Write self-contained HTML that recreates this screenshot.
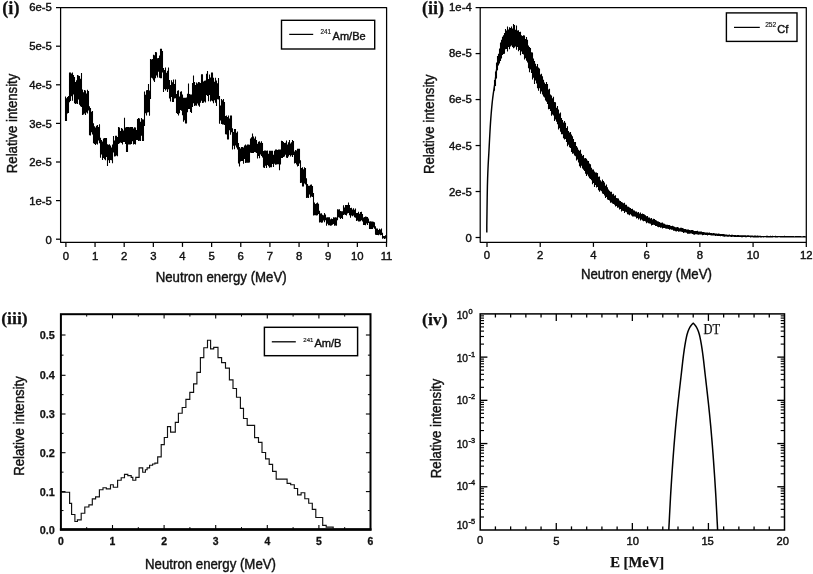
<!DOCTYPE html>
<html><head><meta charset="utf-8"><title>Neutron spectra</title>
<style>html,body{margin:0;padding:0;background:#fff}svg text{white-space:pre}</style></head>
<body>
<svg width="813" height="574" viewBox="0 0 813 574" style="display:block">
<rect width="813" height="574" fill="#fff"/>
<polyline points="60.60,7.60 386.60,7.60 386.60,242.30 60.60,242.30 60.60,7.00" fill="none" stroke="#000" stroke-width="1.25" stroke-linejoin="round"/>
<line x1="65.90" y1="242.30" x2="65.90" y2="246.90" stroke="#000" stroke-width="1.25"/>
<text x="65.90" y="259.50" font-family='"Liberation Sans", Arial, sans-serif' font-size="11.3" font-weight="normal" text-anchor="middle" fill="#111" stroke="#111" stroke-width="0.42">0</text>
<line x1="95.05" y1="242.30" x2="95.05" y2="246.90" stroke="#000" stroke-width="1.25"/>
<text x="95.05" y="259.50" font-family='"Liberation Sans", Arial, sans-serif' font-size="11.3" font-weight="normal" text-anchor="middle" fill="#111" stroke="#111" stroke-width="0.42">1</text>
<line x1="124.19" y1="242.30" x2="124.19" y2="246.90" stroke="#000" stroke-width="1.25"/>
<text x="124.19" y="259.50" font-family='"Liberation Sans", Arial, sans-serif' font-size="11.3" font-weight="normal" text-anchor="middle" fill="#111" stroke="#111" stroke-width="0.42">2</text>
<line x1="153.34" y1="242.30" x2="153.34" y2="246.90" stroke="#000" stroke-width="1.25"/>
<text x="153.34" y="259.50" font-family='"Liberation Sans", Arial, sans-serif' font-size="11.3" font-weight="normal" text-anchor="middle" fill="#111" stroke="#111" stroke-width="0.42">3</text>
<line x1="182.48" y1="242.30" x2="182.48" y2="246.90" stroke="#000" stroke-width="1.25"/>
<text x="182.48" y="259.50" font-family='"Liberation Sans", Arial, sans-serif' font-size="11.3" font-weight="normal" text-anchor="middle" fill="#111" stroke="#111" stroke-width="0.42">4</text>
<line x1="211.63" y1="242.30" x2="211.63" y2="246.90" stroke="#000" stroke-width="1.25"/>
<text x="211.63" y="259.50" font-family='"Liberation Sans", Arial, sans-serif' font-size="11.3" font-weight="normal" text-anchor="middle" fill="#111" stroke="#111" stroke-width="0.42">5</text>
<line x1="240.77" y1="242.30" x2="240.77" y2="246.90" stroke="#000" stroke-width="1.25"/>
<text x="240.77" y="259.50" font-family='"Liberation Sans", Arial, sans-serif' font-size="11.3" font-weight="normal" text-anchor="middle" fill="#111" stroke="#111" stroke-width="0.42">6</text>
<line x1="269.92" y1="242.30" x2="269.92" y2="246.90" stroke="#000" stroke-width="1.25"/>
<text x="269.92" y="259.50" font-family='"Liberation Sans", Arial, sans-serif' font-size="11.3" font-weight="normal" text-anchor="middle" fill="#111" stroke="#111" stroke-width="0.42">7</text>
<line x1="299.06" y1="242.30" x2="299.06" y2="246.90" stroke="#000" stroke-width="1.25"/>
<text x="299.06" y="259.50" font-family='"Liberation Sans", Arial, sans-serif' font-size="11.3" font-weight="normal" text-anchor="middle" fill="#111" stroke="#111" stroke-width="0.42">8</text>
<line x1="328.21" y1="242.30" x2="328.21" y2="246.90" stroke="#000" stroke-width="1.25"/>
<text x="328.21" y="259.50" font-family='"Liberation Sans", Arial, sans-serif' font-size="11.3" font-weight="normal" text-anchor="middle" fill="#111" stroke="#111" stroke-width="0.42">9</text>
<line x1="357.35" y1="242.30" x2="357.35" y2="246.90" stroke="#000" stroke-width="1.25"/>
<text x="357.35" y="259.50" font-family='"Liberation Sans", Arial, sans-serif' font-size="11.3" font-weight="normal" text-anchor="middle" fill="#111" stroke="#111" stroke-width="0.42">10</text>
<line x1="386.50" y1="242.30" x2="386.50" y2="246.90" stroke="#000" stroke-width="1.25"/>
<text x="386.50" y="259.50" font-family='"Liberation Sans", Arial, sans-serif' font-size="11.3" font-weight="normal" text-anchor="middle" fill="#111" stroke="#111" stroke-width="0.42">11</text>
<line x1="56.00" y1="239.20" x2="60.60" y2="239.20" stroke="#000" stroke-width="1.25"/>
<text x="51.90" y="243.90" font-family='"Liberation Sans", Arial, sans-serif' font-size="11.3" font-weight="normal" text-anchor="end" fill="#111" stroke="#111" stroke-width="0.42">0</text>
<line x1="56.00" y1="200.60" x2="60.60" y2="200.60" stroke="#000" stroke-width="1.25"/>
<text x="51.90" y="205.10" font-family='"Liberation Sans", Arial, sans-serif' font-size="11.3" font-weight="normal" text-anchor="end" fill="#111" stroke="#111" stroke-width="0.42">1e-5</text>
<line x1="56.00" y1="162.00" x2="60.60" y2="162.00" stroke="#000" stroke-width="1.25"/>
<text x="51.90" y="166.30" font-family='"Liberation Sans", Arial, sans-serif' font-size="11.3" font-weight="normal" text-anchor="end" fill="#111" stroke="#111" stroke-width="0.42">2e-5</text>
<line x1="56.00" y1="123.40" x2="60.60" y2="123.40" stroke="#000" stroke-width="1.25"/>
<text x="51.90" y="127.50" font-family='"Liberation Sans", Arial, sans-serif' font-size="11.3" font-weight="normal" text-anchor="end" fill="#111" stroke="#111" stroke-width="0.42">3e-5</text>
<line x1="56.00" y1="84.80" x2="60.60" y2="84.80" stroke="#000" stroke-width="1.25"/>
<text x="51.90" y="88.70" font-family='"Liberation Sans", Arial, sans-serif' font-size="11.3" font-weight="normal" text-anchor="end" fill="#111" stroke="#111" stroke-width="0.42">4e-5</text>
<line x1="56.00" y1="46.20" x2="60.60" y2="46.20" stroke="#000" stroke-width="1.25"/>
<text x="51.90" y="49.90" font-family='"Liberation Sans", Arial, sans-serif' font-size="11.3" font-weight="normal" text-anchor="end" fill="#111" stroke="#111" stroke-width="0.42">5e-5</text>
<line x1="56.00" y1="7.60" x2="60.60" y2="7.60" stroke="#000" stroke-width="1.25"/>
<text x="51.90" y="11.10" font-family='"Liberation Sans", Arial, sans-serif' font-size="11.3" font-weight="normal" text-anchor="end" fill="#111" stroke="#111" stroke-width="0.42">6e-5</text>
<text x="16.60" y="123.40" font-family='"Liberation Sans", Arial, sans-serif' font-size="14.3" font-weight="normal" text-anchor="middle" fill="#111" transform="rotate(-90 16.60 123.40)" textLength="99.5" lengthAdjust="spacingAndGlyphs" stroke="#111" stroke-width="0.42">Relative intensity</text>
<text x="221.20" y="281.90" font-family='"Liberation Sans", Arial, sans-serif' font-size="14.3" font-weight="normal" text-anchor="middle" fill="#111" textLength="131" lengthAdjust="spacingAndGlyphs" stroke="#111" stroke-width="0.42">Neutron energy (MeV)</text>
<text x="2.30" y="13.80" font-family='"Liberation Serif", "Times New Roman", serif' font-size="18.2" font-weight="bold" text-anchor="start" fill="#111" stroke="#111" stroke-width="0.25">(i)</text>
<rect x="281.5" y="20.3" width="93.2" height="28.7" fill="#fff" stroke="#000" stroke-width="1.4"/>
<line x1="289.20" y1="34.40" x2="313.20" y2="34.40" stroke="#000" stroke-width="1.25"/>
<text x="320.60" y="34.40" font-family='"Liberation Sans", Arial, sans-serif' font-size="6.3" font-weight="normal" text-anchor="start" fill="#111" stroke="#111" stroke-width="0.15">241</text>
<text x="332.60" y="39.70" font-family='"Liberation Sans", Arial, sans-serif' font-size="11" font-weight="normal" text-anchor="start" fill="#111" stroke="#111" stroke-width="0.42">Am/Be</text>
<path d="M65.5 96.4V120.9M66.5 98.3V121.0M67.5 97.0V113.6M68.5 96.0V113.1M69.5 72.5V102.3M70.5 72.5V101.0M71.5 73.4V96.3M72.5 72.5V100.8M73.5 74.9V94.5M74.5 77.0V103.2M75.5 82.1V104.0M76.5 80.2V103.6M77.5 75.1V104.0M78.5 75.4V99.4M79.5 76.1V104.8M80.5 78.8V106.2M81.5 73.0V107.0M82.5 89.5V115.1M83.5 92.2V114.4M84.5 89.9V113.4M85.5 90.5V114.9M86.5 93.4V112.5M87.5 89.7V113.5M88.5 90.9V110.4M89.5 106.3V135.3M90.5 108.0V135.6M91.5 111.8V132.3M92.5 111.1V134.5M93.5 123.3V143.2M94.5 126.3V143.9M95.5 127.5V145.0M96.5 125.7V143.8M97.5 124.9V144.5M98.5 127.1V140.4M99.5 124.3V143.2M100.5 137.7V157.7M101.5 140.0V154.5M102.5 141.6V159.9M103.5 138.6V158.0M104.5 138.0V159.3M105.5 138.1V160.2M106.5 138.0V157.1M107.5 144.2V166.0M108.5 144.7V160.2M109.5 144.2V163.1M110.5 145.4V160.1M111.5 147.4V160.3M112.5 144.4V163.3M113.5 136.1V152.5M114.5 140.5V156.4M115.5 135.7V156.3M116.5 135.8V155.5M117.5 137.1V156.3M118.5 127.0V143.9M119.5 127.4V143.3M120.5 131.1V142.6M121.5 127.9V143.1M122.5 128.8V144.5M123.5 130.5V142.0M124.5 117.8V141.9M125.5 127.5V144.0M126.5 127.0V152.0M127.5 127.0V152.0M128.5 127.1V144.4M129.5 127.3V144.5M130.5 127.0V144.5M131.5 127.0V144.1M132.5 127.0V141.2M133.5 128.4V144.5M134.5 127.2V144.1M135.5 127.4V144.5M136.5 130.1V140.0M137.5 119.0V140.0M138.5 118.0V141.0M139.5 118.5V140.8M140.5 121.8V140.9M141.5 118.0V135.7M142.5 119.3V140.9M143.5 119.4V141.0M144.5 91.5V126.0M145.5 94.8V113.2M146.5 90.3V115.4M147.5 90.1V112.4M148.5 84.0V112.3M149.5 90.5V115.8M150.5 58.9V99.1M151.5 59.5V77.8M152.5 59.0V78.5M153.5 54.8V80.5M154.5 55.2V82.0M155.5 52.0V78.2M156.5 52.3V75.6M157.5 58.2V77.5M158.5 57.9V71.8M159.5 55.5V77.8M160.5 48.7V78.3M161.5 48.7V78.3M162.5 51.0V72.4M163.5 68.0V91.9M164.5 69.9V89.1M165.5 67.5V90.5M166.5 72.8V89.3M167.5 70.8V91.9M168.5 67.6V89.2M169.5 79.9V98.6M170.5 85.0V101.4M171.5 80.2V96.9M172.5 82.2V101.9M173.5 79.5V101.9M174.5 84.1V98.5M175.5 79.6V98.3M176.5 94.1V113.1M177.5 90.8V113.9M178.5 90.3V115.5M179.5 96.4V113.2M180.5 91.7V109.9M181.5 91.2V110.8M182.5 94.4V115.3M183.5 97.7V121.7M184.5 97.7V120.2M185.5 97.7V123.5M186.5 97.5V123.5M187.5 93.8V112.2M188.5 83.5V109.0M189.5 94.0V108.9M190.5 94.4V111.9M191.5 94.5V113.0M192.5 82.9V106.9M193.5 75.5V103.2M194.5 82.1V105.9M195.5 85.0V105.4M196.5 82.4V105.7M197.5 83.6V103.4M198.5 82.0V105.4M199.5 82.2V106.7M200.5 82.9V102.7M201.5 74.3V100.7M202.5 74.3V103.1M203.5 81.5V102.8M204.5 80.8V101.4M205.5 80.4V102.6M206.5 73.8V95.0M207.5 71.0V96.0M208.5 79.0V101.2M209.5 74.4V94.9M210.5 77.5V101.4M211.5 72.5V100.4M212.5 72.5V101.3M213.5 77.7V103.2M214.5 81.8V100.3M215.5 77.8V102.7M216.5 80.4V105.9M217.5 83.2V99.2M218.5 77.9V99.5M219.5 96.1V123.8M220.5 105.5V120.6M221.5 99.0V124.1M222.5 100.3V124.5M223.5 99.0V124.6M224.5 102.0V125.0M225.5 115.9V134.3M226.5 115.5V134.6M227.5 117.1V139.5M228.5 115.5V139.5M229.5 118.4V130.3M230.5 115.5V134.8M231.5 115.5V132.2M232.5 128.2V149.4M233.5 132.1V145.7M234.5 129.0V149.2M235.5 129.0V145.6M236.5 132.7V147.4M237.5 131.5V149.4M238.5 143.1V163.4M239.5 146.9V166.6M240.5 148.4V161.4M241.5 146.9V160.9M242.5 146.9V160.9M243.5 147.6V163.7M244.5 145.6V158.9M245.5 144.6V162.9M246.5 145.4V162.7M247.5 144.4V162.8M248.5 144.4V162.8M249.5 144.7V162.6M250.5 138.6V152.8M251.5 137.2V152.9M252.5 133.4V153.0M253.5 136.6V153.0M254.5 138.4V152.0M255.5 136.5V152.3M256.5 140.1V153.0M257.5 143.8V158.6M258.5 141.7V156.1M259.5 141.3V158.3M260.5 142.7V154.6M261.5 141.2V156.1M262.5 142.9V157.6M263.5 151.1V167.6M264.5 150.6V168.0M265.5 150.6V165.8M266.5 150.8V167.9M267.5 150.6V165.0M268.5 153.8V166.3M269.5 150.8V167.8M270.5 150.8V167.3M271.5 150.7V167.3M272.5 150.8V163.9M273.5 154.8V166.9M274.5 150.8V163.8M275.5 149.6V164.7M276.5 149.4V164.6M277.5 150.1V164.2M278.5 149.5V164.2M279.5 149.4V170.3M280.5 149.4V164.6M281.5 140.8V158.0M282.5 141.1V157.9M283.5 142.0V157.0M284.5 143.0V156.4M285.5 142.8V154.7M286.5 140.6V157.7M287.5 144.6V158.0M288.5 142.2V156.4M289.5 140.1V155.0M290.5 143.6V156.5M291.5 142.3V155.2M292.5 140.1V157.0M293.5 141.0V155.0M294.5 151.4V163.5M295.5 150.0V162.9M296.5 150.5V164.5M297.5 148.8V166.4M298.5 148.7V166.0M299.5 148.7V163.4M300.5 160.2V183.1M301.5 167.9V182.7M302.5 167.3V186.4M303.5 169.2V186.4M304.5 167.3V183.5M305.5 168.1V184.6M306.5 178.2V197.9M307.5 184.0V197.8M308.5 185.7V197.9M309.5 185.8V194.6M310.5 184.7V197.6M311.5 184.6V196.5M312.5 185.9V196.9M313.5 193.1V215.4M314.5 202.4V215.3M315.5 204.1V215.2M316.5 203.3V215.4M317.5 202.4V215.3M318.5 203.7V214.0M319.5 210.8V222.6M320.5 213.4V222.3M321.5 213.3V222.7M322.5 214.8V222.6M323.5 215.3V220.5M324.5 212.9V222.3M325.5 214.5V220.3M326.5 217.5V225.7M327.5 217.3V223.8M328.5 217.3V225.2M329.5 217.2V225.3M330.5 219.2V225.8M331.5 218.6V225.4M332.5 218.9V224.8M333.5 217.3V224.1M334.5 217.6V225.8M335.5 217.2V225.4M336.5 217.5V225.7M337.5 209.2V220.2M338.5 209.4V217.3M339.5 209.2V217.7M340.5 210.9V219.0M341.5 211.3V217.9M342.5 211.2V218.9M343.5 205.2V215.1M344.5 207.6V214.6M345.5 205.1V215.0M346.5 205.0V215.4M347.5 204.9V213.6M348.5 202.4V213.1M349.5 205.0V215.3M350.5 207.9V217.7M351.5 207.7V215.4M352.5 209.4V216.2M353.5 208.3V215.6M354.5 209.7V217.2M355.5 208.6V217.8M356.5 212.9V221.1M357.5 213.0V220.6M358.5 211.8V221.5M359.5 213.8V221.5M360.5 212.1V221.3M361.5 211.8V220.3M362.5 214.1V221.4M363.5 217.4V225.1M364.5 217.1V225.0M365.5 216.6V225.2M366.5 216.7V223.4M367.5 217.0V225.1M368.5 218.4V223.0M369.5 221.6V229.0M370.5 221.3V229.0M371.5 221.5V229.0M372.5 221.4V228.9M373.5 221.8V227.5M374.5 222.3V228.8M375.5 226.3V234.8M376.5 228.6V235.1M377.5 228.4V235.1M378.5 230.0V235.2M379.5 228.7V234.6M380.5 229.6V235.2M381.5 228.5V235.1M382.5 232.8V238.8M383.5 236.1V238.3M384.5 235.9V238.9M385.5 235.2V238.5M386.5 235.9V238.7" stroke="#000" stroke-width="1.08" fill="none"/>
<polyline points="480.20,7.50 806.30,7.50 806.30,242.30 480.20,242.30 480.20,6.90" fill="none" stroke="#000" stroke-width="1.25" stroke-linejoin="round"/>
<line x1="487.00" y1="242.30" x2="487.00" y2="246.90" stroke="#000" stroke-width="1.25"/>
<text x="487.00" y="258.60" font-family='"Liberation Sans", Arial, sans-serif' font-size="11.3" font-weight="normal" text-anchor="middle" fill="#111" stroke="#111" stroke-width="0.42">0</text>
<line x1="540.22" y1="242.30" x2="540.22" y2="246.90" stroke="#000" stroke-width="1.25"/>
<text x="540.22" y="258.60" font-family='"Liberation Sans", Arial, sans-serif' font-size="11.3" font-weight="normal" text-anchor="middle" fill="#111" stroke="#111" stroke-width="0.42">2</text>
<line x1="593.43" y1="242.30" x2="593.43" y2="246.90" stroke="#000" stroke-width="1.25"/>
<text x="593.43" y="258.60" font-family='"Liberation Sans", Arial, sans-serif' font-size="11.3" font-weight="normal" text-anchor="middle" fill="#111" stroke="#111" stroke-width="0.42">4</text>
<line x1="646.65" y1="242.30" x2="646.65" y2="246.90" stroke="#000" stroke-width="1.25"/>
<text x="646.65" y="258.60" font-family='"Liberation Sans", Arial, sans-serif' font-size="11.3" font-weight="normal" text-anchor="middle" fill="#111" stroke="#111" stroke-width="0.42">6</text>
<line x1="699.87" y1="242.30" x2="699.87" y2="246.90" stroke="#000" stroke-width="1.25"/>
<text x="699.87" y="258.60" font-family='"Liberation Sans", Arial, sans-serif' font-size="11.3" font-weight="normal" text-anchor="middle" fill="#111" stroke="#111" stroke-width="0.42">8</text>
<line x1="753.08" y1="242.30" x2="753.08" y2="246.90" stroke="#000" stroke-width="1.25"/>
<text x="753.08" y="258.60" font-family='"Liberation Sans", Arial, sans-serif' font-size="11.3" font-weight="normal" text-anchor="middle" fill="#111" stroke="#111" stroke-width="0.42">10</text>
<line x1="806.30" y1="242.30" x2="806.30" y2="246.90" stroke="#000" stroke-width="1.25"/>
<text x="806.30" y="258.60" font-family='"Liberation Sans", Arial, sans-serif' font-size="11.3" font-weight="normal" text-anchor="middle" fill="#111" stroke="#111" stroke-width="0.42">12</text>
<line x1="475.60" y1="237.50" x2="480.20" y2="237.50" stroke="#000" stroke-width="1.25"/>
<text x="471.70" y="241.80" font-family='"Liberation Sans", Arial, sans-serif' font-size="11.3" font-weight="normal" text-anchor="end" fill="#111" stroke="#111" stroke-width="0.42">0</text>
<line x1="475.60" y1="191.52" x2="480.20" y2="191.52" stroke="#000" stroke-width="1.25"/>
<text x="471.70" y="195.66" font-family='"Liberation Sans", Arial, sans-serif' font-size="11.3" font-weight="normal" text-anchor="end" fill="#111" stroke="#111" stroke-width="0.42">2e-5</text>
<line x1="475.60" y1="145.54" x2="480.20" y2="145.54" stroke="#000" stroke-width="1.25"/>
<text x="471.70" y="149.52" font-family='"Liberation Sans", Arial, sans-serif' font-size="11.3" font-weight="normal" text-anchor="end" fill="#111" stroke="#111" stroke-width="0.42">4e-5</text>
<line x1="475.60" y1="99.56" x2="480.20" y2="99.56" stroke="#000" stroke-width="1.25"/>
<text x="471.70" y="103.38" font-family='"Liberation Sans", Arial, sans-serif' font-size="11.3" font-weight="normal" text-anchor="end" fill="#111" stroke="#111" stroke-width="0.42">6e-5</text>
<line x1="475.60" y1="53.58" x2="480.20" y2="53.58" stroke="#000" stroke-width="1.25"/>
<text x="471.70" y="57.24" font-family='"Liberation Sans", Arial, sans-serif' font-size="11.3" font-weight="normal" text-anchor="end" fill="#111" stroke="#111" stroke-width="0.42">8e-5</text>
<line x1="475.60" y1="7.60" x2="480.20" y2="7.60" stroke="#000" stroke-width="1.25"/>
<text x="471.70" y="11.10" font-family='"Liberation Sans", Arial, sans-serif' font-size="11.3" font-weight="normal" text-anchor="end" fill="#111" stroke="#111" stroke-width="0.42">1e-4</text>
<text x="434.30" y="124.20" font-family='"Liberation Sans", Arial, sans-serif' font-size="14.3" font-weight="normal" text-anchor="middle" fill="#111" transform="rotate(-90 434.30 124.20)" textLength="99.5" lengthAdjust="spacingAndGlyphs" stroke="#111" stroke-width="0.42">Relative intensity</text>
<text x="646.40" y="278.50" font-family='"Liberation Sans", Arial, sans-serif' font-size="14.3" font-weight="normal" text-anchor="middle" fill="#111" textLength="131" lengthAdjust="spacingAndGlyphs" stroke="#111" stroke-width="0.42">Neutron energy (MeV)</text>
<text x="422.00" y="13.80" font-family='"Liberation Serif", "Times New Roman", serif' font-size="18.0" font-weight="bold" text-anchor="start" fill="#111" stroke="#111" stroke-width="0.25">(ii)</text>
<rect x="726.4" y="12.9" width="70.6" height="28.5" fill="#fff" stroke="#000" stroke-width="1.4"/>
<line x1="734.00" y1="27.40" x2="759.80" y2="27.40" stroke="#000" stroke-width="1.25"/>
<text x="765.20" y="27.00" font-family='"Liberation Sans", Arial, sans-serif' font-size="6.6" font-weight="normal" text-anchor="start" fill="#111" stroke="#111" stroke-width="0.15">252</text>
<text x="777.30" y="32.70" font-family='"Liberation Sans", Arial, sans-serif' font-size="11" font-weight="normal" text-anchor="start" fill="#111" stroke="#111" stroke-width="0.42">Cf</text>
<polyline points="486.80,232.60 486.80,225.43 487.00,211.21 487.20,197.35 487.40,186.03 487.60,178.80 487.80,173.17 488.00,168.41 488.20,164.30 488.40,160.62 488.60,157.16 488.80,153.69 489.00,150.00 489.20,146.12 489.40,142.25 489.60,138.44 489.80,134.70 490.00,131.10 490.20,127.65 490.40,124.41 490.60,121.40 490.80,118.65 491.00,116.03 491.20,113.53 491.40,111.14 491.60,108.85 491.80,106.68 492.00,104.61 492.20,102.64 492.40,100.77 492.60,99.00 492.80,97.34 493.00,95.79 493.20,94.32 493.40,92.93 493.60,91.59 493.80,90.29 494.00,89.01 494.20,87.73 494.40,86.43 494.60,85.10 494.80,83.72 495.00,82.26 495.20,80.72 495.40,79.11 495.60,77.46 495.80,75.79 496.00,74.12 496.20,72.48 496.40,70.89 496.60,69.38" fill="none" stroke="#000" stroke-width="1.45" stroke-linejoin="round"/>
<path d="M494.5 80.1V90.7M495.5 71.5V85.9M496.5 62.4V78.5M497.5 56.0V70.2M498.5 53.7V65.5M499.5 48.6V63.5M500.5 42.5V60.9M501.5 39.7V58.5M502.5 36.8V54.9M503.5 35.3V54.1M504.5 32.9V53.8M505.5 28.9V49.3M506.5 30.5V48.9M507.5 26.6V51.5M508.5 29.6V47.1M509.5 27.2V49.2M510.5 28.0V46.5M511.5 26.6V45.4M512.5 28.6V47.0M513.5 24.1V48.2M514.5 25.0V47.4M515.5 29.7V46.5M516.5 25.4V49.7M517.5 30.5V47.0M518.5 30.3V51.2M519.5 31.9V49.9M520.5 31.7V55.2M521.5 35.3V51.4M522.5 36.1V54.1M523.5 35.2V54.6M524.5 35.6V59.5M525.5 39.0V58.3M526.5 37.0V60.8M527.5 39.8V62.5M528.5 45.5V68.2M529.5 47.0V72.3M530.5 48.0V69.5M531.5 52.3V73.1M532.5 52.6V79.6M533.5 58.4V77.8M534.5 61.0V83.9M535.5 63.7V80.4M536.5 66.2V83.5M537.5 64.1V88.3M538.5 67.5V90.7M539.5 68.4V88.3M540.5 74.5V93.7M541.5 73.7V91.4M542.5 76.2V94.6M543.5 79.7V96.4M544.5 82.5V97.5M545.5 84.1V100.6M546.5 82.1V101.8M547.5 84.0V104.1M548.5 89.6V109.3M549.5 88.8V108.9M550.5 94.5V111.1M551.5 95.5V115.7M552.5 98.3V114.4M553.5 96.8V115.4M554.5 101.9V120.9M555.5 102.3V119.6M556.5 107.7V121.8M557.5 106.0V124.3M558.5 109.4V129.5M559.5 113.6V128.3M560.5 112.5V131.8M561.5 118.0V134.2M562.5 119.9V134.2M563.5 122.6V138.2M564.5 120.9V139.4M565.5 122.7V139.1M566.5 127.9V142.1M567.5 126.3V146.3M568.5 131.0V144.7M569.5 132.6V147.3M570.5 131.9V147.9M571.5 134.5V151.9M572.5 136.2V153.8M573.5 139.1V153.6M574.5 142.0V155.4M575.5 141.9V156.3M576.5 146.0V160.4M577.5 147.6V159.6M578.5 149.7V162.6M579.5 150.7V166.2M580.5 149.8V167.7M581.5 153.8V165.7M582.5 155.7V168.5M583.5 154.9V169.8M584.5 158.2V171.1M585.5 158.1V173.7M586.5 158.8V176.1M587.5 160.5V174.6M588.5 160.9V176.5M589.5 163.6V178.2M590.5 164.2V179.0M591.5 167.7V180.3M592.5 169.4V184.3M593.5 169.4V182.9M594.5 171.5V187.1M595.5 172.5V184.9M596.5 172.6V187.5M597.5 173.1V186.9M598.5 176.7V190.3M599.5 176.6V191.7M600.5 180.3V190.5M601.5 181.4V191.3M602.5 179.6V193.6M603.5 180.9V194.1M604.5 182.4V195.5M605.5 185.8V197.9M606.5 184.5V197.0M607.5 187.2V199.6M608.5 189.5V199.9M609.5 190.8V200.6M610.5 191.7V202.7M611.5 191.7V202.5M612.5 194.3V203.6M613.5 193.7V204.0M614.5 195.8V204.8M615.5 195.3V206.4M616.5 198.1V206.1M617.5 198.3V207.8M618.5 198.6V207.4M619.5 200.5V209.4M620.5 200.9V209.0M621.5 201.9V211.4M622.5 202.6V210.8M623.5 203.3V211.0M624.5 202.8V213.0M625.5 204.8V211.7M626.5 204.7V212.2M627.5 206.6V214.3M628.5 206.7V214.5M629.5 207.4V215.2M630.5 207.9V214.3M631.5 209.1V215.4M632.5 208.8V216.6M633.5 210.2V216.4M634.5 210.5V216.6M635.5 211.4V216.8M636.5 211.4V218.4M637.5 212.5V218.0M638.5 211.9V219.5M639.5 213.4V218.6M640.5 212.6V220.5M641.5 213.9V219.5M642.5 213.5V220.4M643.5 214.0V221.3M644.5 214.6V221.1M645.5 215.2V221.6M646.5 216.3V223.2M647.5 215.9V222.5M648.5 217.4V223.2M649.5 217.4V223.6M650.5 218.4V223.8M651.5 217.9V225.4M652.5 219.4V225.0M653.5 218.8V224.7M654.5 219.1V225.1M655.5 220.0V226.0M656.5 220.4V226.0M657.5 221.2V226.7M658.5 221.6V227.2M659.5 221.9V227.1M660.5 222.7V227.7M661.5 222.7V227.4M662.5 222.6V228.4M663.5 223.4V227.9M664.5 223.8V228.1M665.5 224.5V228.6M666.5 224.8V228.8M667.5 224.8V228.7M668.5 224.9V229.0M669.5 225.1V229.8M670.5 225.7V229.3M671.5 226.0V229.7M672.5 225.8V229.8M673.5 226.3V230.8M674.5 226.7V230.7M675.5 227.3V231.2M676.5 227.3V231.4M677.5 227.1V230.9M678.5 227.4V231.8M679.5 228.2V231.4M680.5 227.8V231.5M681.5 227.8V231.8M682.5 228.1V231.9M683.5 228.6V232.9M684.5 229.1V232.4M685.5 229.0V232.6M686.5 229.5V232.7M687.5 229.6V233.7M688.5 229.4V233.7M689.5 230.1V233.8M690.5 230.3V233.6M691.5 230.1V233.6M692.5 230.0V233.9M693.5 230.5V234.4M694.5 231.1V234.7M695.5 230.9V234.2M696.5 230.9V234.2M697.5 230.8V234.5M698.5 231.6V234.8M699.5 231.6V234.4M700.5 231.5V234.5M701.5 231.6V234.6M702.5 231.9V235.3M703.5 232.0V235.1M704.5 232.3V234.8M705.5 232.6V234.9M706.5 232.4V235.1M707.5 232.5V235.5M708.5 232.8V235.1M709.5 232.6V235.1M710.5 233.1V235.3M711.5 233.1V235.4M712.5 233.2V235.6M713.5 233.1V235.4M714.5 233.2V235.6M715.5 233.5V236.0M716.5 233.6V235.7M717.5 233.7V236.0M718.5 233.4V236.1M719.5 233.8V235.9M720.5 234.0V236.2M721.5 233.9V236.1M722.5 234.0V236.3M723.5 233.9V236.5M724.5 234.3V236.7M725.5 234.5V236.5M726.5 234.5V236.4M727.5 234.7V236.8M728.5 234.8V236.7M729.5 234.4V236.6M730.5 234.9V236.8M731.5 234.8V236.9M732.5 234.7V236.8M733.5 235.0V236.8M734.5 235.1V237.1M735.5 234.9V237.1M736.5 235.2V237.1M737.5 235.0V237.0M738.5 235.1V237.0M739.5 235.3V236.9M740.5 235.3V236.9M741.5 235.3V237.2M742.5 235.2V237.3M743.5 235.2V237.1M744.5 235.3V237.1M745.5 235.3V237.2M746.5 235.5V237.2M747.5 235.2V237.1M748.5 235.3V237.1M749.5 235.6V237.1M750.5 235.4V237.4M751.5 235.5V237.2M752.5 235.4V237.2M753.5 235.7V237.5M754.5 235.6V237.4M755.5 235.6V237.5M756.5 235.7V237.4M757.5 235.6V237.5M758.5 235.7V237.4M759.5 235.7V237.3M760.5 235.8V237.4M761.5 235.9V237.5M762.5 235.9V237.2M763.5 235.9V237.5M764.5 235.9V237.3M765.5 235.9V237.3M766.5 235.8V237.4M767.5 235.8V237.5M768.5 236.0V237.4M769.5 235.9V237.5M770.5 235.8V237.5M771.5 236.0V237.5M772.5 235.8V237.6M773.5 236.0V237.3M774.5 236.0V237.3M775.5 235.8V237.5M776.5 235.9V237.5M777.5 235.9V237.4M778.5 236.0V237.3M779.5 235.9V237.3M780.5 236.0V237.4M781.5 236.1V237.4M782.5 236.0V237.5M783.5 236.0V237.4M784.5 235.8V237.4M785.5 235.9V237.5M786.5 236.1V237.4M787.5 236.0V237.5M788.5 236.1V237.5M789.5 236.0V237.4M790.5 235.9V237.4M791.5 235.9V237.4M792.5 236.1V237.4M793.5 236.0V237.6M794.5 236.2V237.4M795.5 236.1V237.5M796.5 236.1V237.4M797.5 236.1V237.5M798.5 236.1V237.6M799.5 236.1V237.4M800.5 236.0V237.4M801.5 236.2V237.5M802.5 236.2V237.5M803.5 236.1V237.5M804.5 236.1V237.4M805.5 236.2V237.4" stroke="#000" stroke-width="1.08" fill="none"/>
<rect x="60.9" y="314.2" width="309.6" height="215.3" fill="none" stroke="#000" stroke-width="2.0"/>
<line x1="59.90" y1="529.50" x2="371.50" y2="529.50" stroke="#000" stroke-width="2.4"/>
<text x="60.90" y="544.60" font-family='"Liberation Sans", Arial, sans-serif' font-size="10.4" font-weight="bold" text-anchor="middle" fill="#111" stroke="#111" stroke-width="0.3">0</text>
<line x1="86.70" y1="529.50" x2="86.70" y2="527.10" stroke="#000" stroke-width="1.0"/>
<line x1="86.70" y1="314.20" x2="86.70" y2="316.60" stroke="#000" stroke-width="1.0"/>
<line x1="112.50" y1="529.50" x2="112.50" y2="525.00" stroke="#000" stroke-width="1.1"/>
<line x1="112.50" y1="314.20" x2="112.50" y2="318.40" stroke="#000" stroke-width="1.1"/>
<text x="112.50" y="544.60" font-family='"Liberation Sans", Arial, sans-serif' font-size="10.4" font-weight="bold" text-anchor="middle" fill="#111" stroke="#111" stroke-width="0.3">1</text>
<line x1="138.30" y1="529.50" x2="138.30" y2="527.10" stroke="#000" stroke-width="1.0"/>
<line x1="138.30" y1="314.20" x2="138.30" y2="316.60" stroke="#000" stroke-width="1.0"/>
<line x1="164.10" y1="529.50" x2="164.10" y2="525.00" stroke="#000" stroke-width="1.1"/>
<line x1="164.10" y1="314.20" x2="164.10" y2="318.40" stroke="#000" stroke-width="1.1"/>
<text x="164.10" y="544.60" font-family='"Liberation Sans", Arial, sans-serif' font-size="10.4" font-weight="bold" text-anchor="middle" fill="#111" stroke="#111" stroke-width="0.3">2</text>
<line x1="189.90" y1="529.50" x2="189.90" y2="527.10" stroke="#000" stroke-width="1.0"/>
<line x1="189.90" y1="314.20" x2="189.90" y2="316.60" stroke="#000" stroke-width="1.0"/>
<line x1="215.70" y1="529.50" x2="215.70" y2="525.00" stroke="#000" stroke-width="1.1"/>
<line x1="215.70" y1="314.20" x2="215.70" y2="318.40" stroke="#000" stroke-width="1.1"/>
<text x="215.70" y="544.60" font-family='"Liberation Sans", Arial, sans-serif' font-size="10.4" font-weight="bold" text-anchor="middle" fill="#111" stroke="#111" stroke-width="0.3">3</text>
<line x1="241.50" y1="529.50" x2="241.50" y2="527.10" stroke="#000" stroke-width="1.0"/>
<line x1="241.50" y1="314.20" x2="241.50" y2="316.60" stroke="#000" stroke-width="1.0"/>
<line x1="267.30" y1="529.50" x2="267.30" y2="525.00" stroke="#000" stroke-width="1.1"/>
<line x1="267.30" y1="314.20" x2="267.30" y2="318.40" stroke="#000" stroke-width="1.1"/>
<text x="267.30" y="544.60" font-family='"Liberation Sans", Arial, sans-serif' font-size="10.4" font-weight="bold" text-anchor="middle" fill="#111" stroke="#111" stroke-width="0.3">4</text>
<line x1="293.10" y1="529.50" x2="293.10" y2="527.10" stroke="#000" stroke-width="1.0"/>
<line x1="293.10" y1="314.20" x2="293.10" y2="316.60" stroke="#000" stroke-width="1.0"/>
<line x1="318.90" y1="529.50" x2="318.90" y2="525.00" stroke="#000" stroke-width="1.1"/>
<line x1="318.90" y1="314.20" x2="318.90" y2="318.40" stroke="#000" stroke-width="1.1"/>
<text x="318.90" y="544.60" font-family='"Liberation Sans", Arial, sans-serif' font-size="10.4" font-weight="bold" text-anchor="middle" fill="#111" stroke="#111" stroke-width="0.3">5</text>
<line x1="344.70" y1="529.50" x2="344.70" y2="527.10" stroke="#000" stroke-width="1.0"/>
<line x1="344.70" y1="314.20" x2="344.70" y2="316.60" stroke="#000" stroke-width="1.0"/>
<text x="370.50" y="544.60" font-family='"Liberation Sans", Arial, sans-serif' font-size="10.4" font-weight="bold" text-anchor="middle" fill="#111" stroke="#111" stroke-width="0.3">6</text>
<text x="54.80" y="533.60" font-family='"Liberation Sans", Arial, sans-serif' font-size="10.9" font-weight="bold" text-anchor="end" fill="#111" stroke="#111" stroke-width="0.25">0.0</text>
<line x1="60.90" y1="510.55" x2="63.50" y2="510.55" stroke="#000" stroke-width="1.0"/>
<line x1="370.50" y1="510.55" x2="367.90" y2="510.55" stroke="#000" stroke-width="1.0"/>
<line x1="60.90" y1="491.60" x2="65.50" y2="491.60" stroke="#000" stroke-width="1.1"/>
<line x1="370.50" y1="491.60" x2="365.90" y2="491.60" stroke="#000" stroke-width="1.1"/>
<text x="54.80" y="495.70" font-family='"Liberation Sans", Arial, sans-serif' font-size="10.9" font-weight="bold" text-anchor="end" fill="#111" stroke="#111" stroke-width="0.25">0.1</text>
<line x1="60.90" y1="472.15" x2="63.50" y2="472.15" stroke="#000" stroke-width="1.0"/>
<line x1="370.50" y1="472.15" x2="367.90" y2="472.15" stroke="#000" stroke-width="1.0"/>
<line x1="60.90" y1="452.70" x2="65.50" y2="452.70" stroke="#000" stroke-width="1.1"/>
<line x1="370.50" y1="452.70" x2="365.90" y2="452.70" stroke="#000" stroke-width="1.1"/>
<text x="54.80" y="456.80" font-family='"Liberation Sans", Arial, sans-serif' font-size="10.9" font-weight="bold" text-anchor="end" fill="#111" stroke="#111" stroke-width="0.25">0.2</text>
<line x1="60.90" y1="433.35" x2="63.50" y2="433.35" stroke="#000" stroke-width="1.0"/>
<line x1="370.50" y1="433.35" x2="367.90" y2="433.35" stroke="#000" stroke-width="1.0"/>
<line x1="60.90" y1="414.00" x2="65.50" y2="414.00" stroke="#000" stroke-width="1.1"/>
<line x1="370.50" y1="414.00" x2="365.90" y2="414.00" stroke="#000" stroke-width="1.1"/>
<text x="54.80" y="418.10" font-family='"Liberation Sans", Arial, sans-serif' font-size="10.9" font-weight="bold" text-anchor="end" fill="#111" stroke="#111" stroke-width="0.25">0.3</text>
<line x1="60.90" y1="394.65" x2="63.50" y2="394.65" stroke="#000" stroke-width="1.0"/>
<line x1="370.50" y1="394.65" x2="367.90" y2="394.65" stroke="#000" stroke-width="1.0"/>
<line x1="60.90" y1="375.30" x2="65.50" y2="375.30" stroke="#000" stroke-width="1.1"/>
<line x1="370.50" y1="375.30" x2="365.90" y2="375.30" stroke="#000" stroke-width="1.1"/>
<text x="54.80" y="379.40" font-family='"Liberation Sans", Arial, sans-serif' font-size="10.9" font-weight="bold" text-anchor="end" fill="#111" stroke="#111" stroke-width="0.25">0.4</text>
<line x1="60.90" y1="355.15" x2="63.50" y2="355.15" stroke="#000" stroke-width="1.0"/>
<line x1="370.50" y1="355.15" x2="367.90" y2="355.15" stroke="#000" stroke-width="1.0"/>
<line x1="60.90" y1="335.00" x2="65.50" y2="335.00" stroke="#000" stroke-width="1.1"/>
<line x1="370.50" y1="335.00" x2="365.90" y2="335.00" stroke="#000" stroke-width="1.1"/>
<text x="54.80" y="339.10" font-family='"Liberation Sans", Arial, sans-serif' font-size="10.9" font-weight="bold" text-anchor="end" fill="#111" stroke="#111" stroke-width="0.25">0.5</text>
<text x="24.40" y="426.00" font-family='"Liberation Sans", Arial, sans-serif' font-size="14.3" font-weight="normal" text-anchor="middle" fill="#111" transform="rotate(-90 24.40 426.00)" textLength="99.5" lengthAdjust="spacingAndGlyphs" stroke="#111" stroke-width="0.42">Relative intensity</text>
<text x="210.50" y="568.50" font-family='"Liberation Sans", Arial, sans-serif' font-size="14.3" font-weight="normal" text-anchor="middle" fill="#111" textLength="131" lengthAdjust="spacingAndGlyphs" stroke="#111" stroke-width="0.42">Neutron energy (MeV)</text>
<text x="1.20" y="324.30" font-family='"Liberation Serif", "Times New Roman", serif' font-size="17.7" font-weight="bold" text-anchor="start" fill="#111" stroke="#111" stroke-width="0.25">(iii)</text>
<rect x="264.4" y="327.3" width="93.2" height="28.4" fill="#fff" stroke="#000" stroke-width="1.45"/>
<line x1="271.80" y1="341.80" x2="295.80" y2="341.80" stroke="#000" stroke-width="1.3"/>
<text x="303.30" y="342.00" font-family='"Liberation Sans", Arial, sans-serif' font-size="6.0" font-weight="normal" text-anchor="start" fill="#111" stroke="#111" stroke-width="0.15">241</text>
<text x="314.40" y="346.50" font-family='"Liberation Sans", Arial, sans-serif' font-size="11.1" font-weight="normal" text-anchor="start" fill="#111" stroke="#111" stroke-width="0.42">Am/B</text>
<polyline points="60.90,492.20 69.60,492.20 69.60,503.40 71.60,503.40 71.60,514.50 74.90,514.50 74.90,521.50 77.40,521.50 77.40,519.80 81.20,519.80 81.20,513.20 84.80,513.20 84.80,507.00 88.90,507.00 88.90,504.90 92.30,504.90 92.30,498.80 95.60,498.80 95.60,496.80 99.40,496.80 99.40,489.70 103.00,489.70 103.00,487.70 106.30,487.70 106.30,488.80 110.50,488.80 110.50,484.70 113.30,484.70 113.30,487.20 117.60,487.20 117.60,480.20 121.20,480.20 121.20,477.70 124.50,477.70 124.50,474.30 127.80,474.30 127.80,475.60 131.20,475.60 131.20,477.30 132.80,477.30 132.80,480.20 135.80,480.20 135.80,477.30 139.10,477.30 139.10,467.80 142.70,467.80 142.70,472.20 145.40,472.20 145.40,469.70 147.10,469.70 147.10,467.80 149.60,467.80 149.60,465.20 152.60,465.20 152.60,464.00 154.90,464.00 154.90,463.10 157.70,463.10 157.70,456.80 161.20,456.80 161.20,444.60 164.30,444.60 164.30,437.50 167.50,437.50 167.50,426.60 170.60,426.60 170.60,432.10 175.30,432.10 175.30,422.30 178.40,422.30 178.40,413.20 182.20,413.20 182.20,407.50 185.90,407.50 185.90,399.30 189.80,399.30 189.80,392.30 193.60,392.30 193.60,383.80 196.90,383.80 196.90,372.40 200.40,372.40 200.40,357.60 203.80,357.60 203.80,347.70 207.50,347.70 207.50,340.20 210.60,340.20 210.60,348.80 213.70,348.80 213.70,347.40 218.00,347.40 218.00,357.60 221.60,357.60 221.60,362.60 225.50,362.60 225.50,368.10 229.40,368.10 229.40,379.90 233.00,379.90 233.00,388.50 236.50,388.50 236.50,397.20 240.40,397.20 240.40,408.40 243.50,408.40 243.50,418.50 247.20,418.50 247.20,425.40 254.60,425.40 254.60,437.60 258.50,437.60 258.50,442.40 262.00,442.40 262.00,452.50 265.60,452.50 265.60,458.80 269.20,458.80 269.20,464.30 272.60,464.30 272.60,471.40 276.20,471.40 276.20,479.10 287.10,479.10 287.10,483.30 290.70,483.30 290.70,484.70 294.30,484.70 294.30,488.50 297.60,488.50 297.60,494.80 301.10,494.80 301.10,492.70 304.80,492.70 304.80,498.70 308.70,498.70 308.70,503.20 312.30,503.20 312.30,509.40 315.80,509.40 315.80,517.50 322.70,517.50 322.70,525.40 326.20,525.40 326.20,527.10 333.20,527.10 333.20,529.00 333.20,529.00" fill="none" stroke="#111" stroke-width="1.15" stroke-linejoin="miter"/>
<rect x="480.2" y="313.9" width="304.3" height="216.10000000000002" fill="none" stroke="#000" stroke-width="1.5"/>
<line x1="495.41" y1="530.00" x2="495.41" y2="526.40" stroke="#000" stroke-width="1.3"/>
<line x1="495.41" y1="313.90" x2="495.41" y2="317.50" stroke="#000" stroke-width="1.3"/>
<line x1="510.63" y1="530.00" x2="510.63" y2="526.40" stroke="#000" stroke-width="1.3"/>
<line x1="510.63" y1="313.90" x2="510.63" y2="317.50" stroke="#000" stroke-width="1.3"/>
<line x1="525.85" y1="530.00" x2="525.85" y2="526.40" stroke="#000" stroke-width="1.3"/>
<line x1="525.85" y1="313.90" x2="525.85" y2="317.50" stroke="#000" stroke-width="1.3"/>
<line x1="541.06" y1="530.00" x2="541.06" y2="526.40" stroke="#000" stroke-width="1.3"/>
<line x1="541.06" y1="313.90" x2="541.06" y2="317.50" stroke="#000" stroke-width="1.3"/>
<line x1="556.27" y1="530.00" x2="556.27" y2="523.00" stroke="#000" stroke-width="1.3"/>
<line x1="556.27" y1="313.90" x2="556.27" y2="320.90" stroke="#000" stroke-width="1.3"/>
<line x1="571.49" y1="530.00" x2="571.49" y2="526.40" stroke="#000" stroke-width="1.3"/>
<line x1="571.49" y1="313.90" x2="571.49" y2="317.50" stroke="#000" stroke-width="1.3"/>
<line x1="586.70" y1="530.00" x2="586.70" y2="526.40" stroke="#000" stroke-width="1.3"/>
<line x1="586.70" y1="313.90" x2="586.70" y2="317.50" stroke="#000" stroke-width="1.3"/>
<line x1="601.92" y1="530.00" x2="601.92" y2="526.40" stroke="#000" stroke-width="1.3"/>
<line x1="601.92" y1="313.90" x2="601.92" y2="317.50" stroke="#000" stroke-width="1.3"/>
<line x1="617.13" y1="530.00" x2="617.13" y2="526.40" stroke="#000" stroke-width="1.3"/>
<line x1="617.13" y1="313.90" x2="617.13" y2="317.50" stroke="#000" stroke-width="1.3"/>
<line x1="632.35" y1="530.00" x2="632.35" y2="523.00" stroke="#000" stroke-width="1.3"/>
<line x1="632.35" y1="313.90" x2="632.35" y2="320.90" stroke="#000" stroke-width="1.3"/>
<line x1="647.57" y1="530.00" x2="647.57" y2="526.40" stroke="#000" stroke-width="1.3"/>
<line x1="647.57" y1="313.90" x2="647.57" y2="317.50" stroke="#000" stroke-width="1.3"/>
<line x1="662.78" y1="530.00" x2="662.78" y2="526.40" stroke="#000" stroke-width="1.3"/>
<line x1="662.78" y1="313.90" x2="662.78" y2="317.50" stroke="#000" stroke-width="1.3"/>
<line x1="678.00" y1="530.00" x2="678.00" y2="526.40" stroke="#000" stroke-width="1.3"/>
<line x1="678.00" y1="313.90" x2="678.00" y2="317.50" stroke="#000" stroke-width="1.3"/>
<line x1="693.21" y1="530.00" x2="693.21" y2="526.40" stroke="#000" stroke-width="1.3"/>
<line x1="693.21" y1="313.90" x2="693.21" y2="317.50" stroke="#000" stroke-width="1.3"/>
<line x1="708.42" y1="530.00" x2="708.42" y2="523.00" stroke="#000" stroke-width="1.3"/>
<line x1="708.42" y1="313.90" x2="708.42" y2="320.90" stroke="#000" stroke-width="1.3"/>
<line x1="723.64" y1="530.00" x2="723.64" y2="526.40" stroke="#000" stroke-width="1.3"/>
<line x1="723.64" y1="313.90" x2="723.64" y2="317.50" stroke="#000" stroke-width="1.3"/>
<line x1="738.86" y1="530.00" x2="738.86" y2="526.40" stroke="#000" stroke-width="1.3"/>
<line x1="738.86" y1="313.90" x2="738.86" y2="317.50" stroke="#000" stroke-width="1.3"/>
<line x1="754.07" y1="530.00" x2="754.07" y2="526.40" stroke="#000" stroke-width="1.3"/>
<line x1="754.07" y1="313.90" x2="754.07" y2="317.50" stroke="#000" stroke-width="1.3"/>
<line x1="769.28" y1="530.00" x2="769.28" y2="526.40" stroke="#000" stroke-width="1.3"/>
<line x1="769.28" y1="313.90" x2="769.28" y2="317.50" stroke="#000" stroke-width="1.3"/>
<text x="480.20" y="544.00" font-family='"Liberation Sans", Arial, sans-serif' font-size="11.2" font-weight="normal" text-anchor="middle" fill="#111" stroke="#111" stroke-width="0.42">0</text>
<text x="556.27" y="545.40" font-family='"Liberation Sans", Arial, sans-serif' font-size="11.2" font-weight="normal" text-anchor="middle" fill="#111" stroke="#111" stroke-width="0.42">5</text>
<text x="632.65" y="545.40" font-family='"Liberation Sans", Arial, sans-serif' font-size="11.2" font-weight="normal" text-anchor="middle" fill="#111" stroke="#111" stroke-width="0.42">10</text>
<text x="707.62" y="545.40" font-family='"Liberation Sans", Arial, sans-serif' font-size="11.2" font-weight="normal" text-anchor="middle" fill="#111" stroke="#111" stroke-width="0.42">15</text>
<text x="782.80" y="545.40" font-family='"Liberation Sans", Arial, sans-serif' font-size="11.2" font-weight="normal" text-anchor="middle" fill="#111" stroke="#111" stroke-width="0.42">20</text>
<text x="468.00" y="318.90" font-family='"Liberation Sans", Arial, sans-serif' font-size="10.2" font-weight="normal" text-anchor="end" fill="#111" stroke="#111" stroke-width="0.42">10</text>
<text x="468.60" y="314.10" font-family='"Liberation Sans", Arial, sans-serif' font-size="7.4" font-weight="normal" text-anchor="start" fill="#111" stroke="#111" stroke-width="0.42">0</text>
<line x1="480.20" y1="344.11" x2="484.00" y2="344.11" stroke="#000" stroke-width="1.15"/>
<line x1="784.50" y1="344.11" x2="780.70" y2="344.11" stroke="#000" stroke-width="1.15"/>
<line x1="480.20" y1="336.50" x2="484.00" y2="336.50" stroke="#000" stroke-width="1.15"/>
<line x1="784.50" y1="336.50" x2="780.70" y2="336.50" stroke="#000" stroke-width="1.15"/>
<line x1="480.20" y1="331.10" x2="484.00" y2="331.10" stroke="#000" stroke-width="1.15"/>
<line x1="784.50" y1="331.10" x2="780.70" y2="331.10" stroke="#000" stroke-width="1.15"/>
<line x1="480.20" y1="326.91" x2="484.00" y2="326.91" stroke="#000" stroke-width="1.15"/>
<line x1="784.50" y1="326.91" x2="780.70" y2="326.91" stroke="#000" stroke-width="1.15"/>
<line x1="480.20" y1="323.49" x2="484.00" y2="323.49" stroke="#000" stroke-width="1.15"/>
<line x1="784.50" y1="323.49" x2="780.70" y2="323.49" stroke="#000" stroke-width="1.15"/>
<line x1="480.20" y1="320.59" x2="484.00" y2="320.59" stroke="#000" stroke-width="1.15"/>
<line x1="784.50" y1="320.59" x2="780.70" y2="320.59" stroke="#000" stroke-width="1.15"/>
<line x1="480.20" y1="318.09" x2="484.00" y2="318.09" stroke="#000" stroke-width="1.15"/>
<line x1="784.50" y1="318.09" x2="780.70" y2="318.09" stroke="#000" stroke-width="1.15"/>
<line x1="480.20" y1="315.88" x2="484.00" y2="315.88" stroke="#000" stroke-width="1.15"/>
<line x1="784.50" y1="315.88" x2="780.70" y2="315.88" stroke="#000" stroke-width="1.15"/>
<line x1="480.20" y1="357.12" x2="487.40" y2="357.12" stroke="#000" stroke-width="1.35"/>
<line x1="784.50" y1="357.12" x2="777.30" y2="357.12" stroke="#000" stroke-width="1.35"/>
<text x="468.00" y="362.12" font-family='"Liberation Sans", Arial, sans-serif' font-size="10.2" font-weight="normal" text-anchor="end" fill="#111" stroke="#111" stroke-width="0.42">10</text>
<text x="468.60" y="357.32" font-family='"Liberation Sans", Arial, sans-serif' font-size="7.4" font-weight="normal" text-anchor="start" fill="#111" stroke="#111" stroke-width="0.42">-1</text>
<line x1="480.20" y1="387.33" x2="484.00" y2="387.33" stroke="#000" stroke-width="1.15"/>
<line x1="784.50" y1="387.33" x2="780.70" y2="387.33" stroke="#000" stroke-width="1.15"/>
<line x1="480.20" y1="379.72" x2="484.00" y2="379.72" stroke="#000" stroke-width="1.15"/>
<line x1="784.50" y1="379.72" x2="780.70" y2="379.72" stroke="#000" stroke-width="1.15"/>
<line x1="480.20" y1="374.32" x2="484.00" y2="374.32" stroke="#000" stroke-width="1.15"/>
<line x1="784.50" y1="374.32" x2="780.70" y2="374.32" stroke="#000" stroke-width="1.15"/>
<line x1="480.20" y1="370.13" x2="484.00" y2="370.13" stroke="#000" stroke-width="1.15"/>
<line x1="784.50" y1="370.13" x2="780.70" y2="370.13" stroke="#000" stroke-width="1.15"/>
<line x1="480.20" y1="366.71" x2="484.00" y2="366.71" stroke="#000" stroke-width="1.15"/>
<line x1="784.50" y1="366.71" x2="780.70" y2="366.71" stroke="#000" stroke-width="1.15"/>
<line x1="480.20" y1="363.81" x2="484.00" y2="363.81" stroke="#000" stroke-width="1.15"/>
<line x1="784.50" y1="363.81" x2="780.70" y2="363.81" stroke="#000" stroke-width="1.15"/>
<line x1="480.20" y1="361.31" x2="484.00" y2="361.31" stroke="#000" stroke-width="1.15"/>
<line x1="784.50" y1="361.31" x2="780.70" y2="361.31" stroke="#000" stroke-width="1.15"/>
<line x1="480.20" y1="359.10" x2="484.00" y2="359.10" stroke="#000" stroke-width="1.15"/>
<line x1="784.50" y1="359.10" x2="780.70" y2="359.10" stroke="#000" stroke-width="1.15"/>
<line x1="480.20" y1="400.34" x2="487.40" y2="400.34" stroke="#000" stroke-width="1.35"/>
<line x1="784.50" y1="400.34" x2="777.30" y2="400.34" stroke="#000" stroke-width="1.35"/>
<text x="468.00" y="404.04" font-family='"Liberation Sans", Arial, sans-serif' font-size="10.2" font-weight="normal" text-anchor="end" fill="#111" stroke="#111" stroke-width="0.42">10</text>
<text x="468.60" y="399.24" font-family='"Liberation Sans", Arial, sans-serif' font-size="7.4" font-weight="normal" text-anchor="start" fill="#111" stroke="#111" stroke-width="0.42">-2</text>
<line x1="480.20" y1="430.55" x2="484.00" y2="430.55" stroke="#000" stroke-width="1.15"/>
<line x1="784.50" y1="430.55" x2="780.70" y2="430.55" stroke="#000" stroke-width="1.15"/>
<line x1="480.20" y1="422.94" x2="484.00" y2="422.94" stroke="#000" stroke-width="1.15"/>
<line x1="784.50" y1="422.94" x2="780.70" y2="422.94" stroke="#000" stroke-width="1.15"/>
<line x1="480.20" y1="417.54" x2="484.00" y2="417.54" stroke="#000" stroke-width="1.15"/>
<line x1="784.50" y1="417.54" x2="780.70" y2="417.54" stroke="#000" stroke-width="1.15"/>
<line x1="480.20" y1="413.35" x2="484.00" y2="413.35" stroke="#000" stroke-width="1.15"/>
<line x1="784.50" y1="413.35" x2="780.70" y2="413.35" stroke="#000" stroke-width="1.15"/>
<line x1="480.20" y1="409.93" x2="484.00" y2="409.93" stroke="#000" stroke-width="1.15"/>
<line x1="784.50" y1="409.93" x2="780.70" y2="409.93" stroke="#000" stroke-width="1.15"/>
<line x1="480.20" y1="407.03" x2="484.00" y2="407.03" stroke="#000" stroke-width="1.15"/>
<line x1="784.50" y1="407.03" x2="780.70" y2="407.03" stroke="#000" stroke-width="1.15"/>
<line x1="480.20" y1="404.53" x2="484.00" y2="404.53" stroke="#000" stroke-width="1.15"/>
<line x1="784.50" y1="404.53" x2="780.70" y2="404.53" stroke="#000" stroke-width="1.15"/>
<line x1="480.20" y1="402.32" x2="484.00" y2="402.32" stroke="#000" stroke-width="1.15"/>
<line x1="784.50" y1="402.32" x2="780.70" y2="402.32" stroke="#000" stroke-width="1.15"/>
<line x1="480.20" y1="443.56" x2="487.40" y2="443.56" stroke="#000" stroke-width="1.35"/>
<line x1="784.50" y1="443.56" x2="777.30" y2="443.56" stroke="#000" stroke-width="1.35"/>
<text x="468.00" y="447.56" font-family='"Liberation Sans", Arial, sans-serif' font-size="10.2" font-weight="normal" text-anchor="end" fill="#111" stroke="#111" stroke-width="0.42">10</text>
<text x="468.60" y="442.76" font-family='"Liberation Sans", Arial, sans-serif' font-size="7.4" font-weight="normal" text-anchor="start" fill="#111" stroke="#111" stroke-width="0.42">-3</text>
<line x1="480.20" y1="473.77" x2="484.00" y2="473.77" stroke="#000" stroke-width="1.15"/>
<line x1="784.50" y1="473.77" x2="780.70" y2="473.77" stroke="#000" stroke-width="1.15"/>
<line x1="480.20" y1="466.16" x2="484.00" y2="466.16" stroke="#000" stroke-width="1.15"/>
<line x1="784.50" y1="466.16" x2="780.70" y2="466.16" stroke="#000" stroke-width="1.15"/>
<line x1="480.20" y1="460.76" x2="484.00" y2="460.76" stroke="#000" stroke-width="1.15"/>
<line x1="784.50" y1="460.76" x2="780.70" y2="460.76" stroke="#000" stroke-width="1.15"/>
<line x1="480.20" y1="456.57" x2="484.00" y2="456.57" stroke="#000" stroke-width="1.15"/>
<line x1="784.50" y1="456.57" x2="780.70" y2="456.57" stroke="#000" stroke-width="1.15"/>
<line x1="480.20" y1="453.15" x2="484.00" y2="453.15" stroke="#000" stroke-width="1.15"/>
<line x1="784.50" y1="453.15" x2="780.70" y2="453.15" stroke="#000" stroke-width="1.15"/>
<line x1="480.20" y1="450.25" x2="484.00" y2="450.25" stroke="#000" stroke-width="1.15"/>
<line x1="784.50" y1="450.25" x2="780.70" y2="450.25" stroke="#000" stroke-width="1.15"/>
<line x1="480.20" y1="447.75" x2="484.00" y2="447.75" stroke="#000" stroke-width="1.15"/>
<line x1="784.50" y1="447.75" x2="780.70" y2="447.75" stroke="#000" stroke-width="1.15"/>
<line x1="480.20" y1="445.54" x2="484.00" y2="445.54" stroke="#000" stroke-width="1.15"/>
<line x1="784.50" y1="445.54" x2="780.70" y2="445.54" stroke="#000" stroke-width="1.15"/>
<line x1="480.20" y1="486.78" x2="487.40" y2="486.78" stroke="#000" stroke-width="1.35"/>
<line x1="784.50" y1="486.78" x2="777.30" y2="486.78" stroke="#000" stroke-width="1.35"/>
<text x="468.00" y="490.18" font-family='"Liberation Sans", Arial, sans-serif' font-size="10.2" font-weight="normal" text-anchor="end" fill="#111" stroke="#111" stroke-width="0.42">10</text>
<text x="468.60" y="485.38" font-family='"Liberation Sans", Arial, sans-serif' font-size="7.4" font-weight="normal" text-anchor="start" fill="#111" stroke="#111" stroke-width="0.42">-4</text>
<line x1="480.20" y1="516.99" x2="484.00" y2="516.99" stroke="#000" stroke-width="1.15"/>
<line x1="784.50" y1="516.99" x2="780.70" y2="516.99" stroke="#000" stroke-width="1.15"/>
<line x1="480.20" y1="509.38" x2="484.00" y2="509.38" stroke="#000" stroke-width="1.15"/>
<line x1="784.50" y1="509.38" x2="780.70" y2="509.38" stroke="#000" stroke-width="1.15"/>
<line x1="480.20" y1="503.98" x2="484.00" y2="503.98" stroke="#000" stroke-width="1.15"/>
<line x1="784.50" y1="503.98" x2="780.70" y2="503.98" stroke="#000" stroke-width="1.15"/>
<line x1="480.20" y1="499.79" x2="484.00" y2="499.79" stroke="#000" stroke-width="1.15"/>
<line x1="784.50" y1="499.79" x2="780.70" y2="499.79" stroke="#000" stroke-width="1.15"/>
<line x1="480.20" y1="496.37" x2="484.00" y2="496.37" stroke="#000" stroke-width="1.15"/>
<line x1="784.50" y1="496.37" x2="780.70" y2="496.37" stroke="#000" stroke-width="1.15"/>
<line x1="480.20" y1="493.47" x2="484.00" y2="493.47" stroke="#000" stroke-width="1.15"/>
<line x1="784.50" y1="493.47" x2="780.70" y2="493.47" stroke="#000" stroke-width="1.15"/>
<line x1="480.20" y1="490.97" x2="484.00" y2="490.97" stroke="#000" stroke-width="1.15"/>
<line x1="784.50" y1="490.97" x2="780.70" y2="490.97" stroke="#000" stroke-width="1.15"/>
<line x1="480.20" y1="488.76" x2="484.00" y2="488.76" stroke="#000" stroke-width="1.15"/>
<line x1="784.50" y1="488.76" x2="780.70" y2="488.76" stroke="#000" stroke-width="1.15"/>
<text x="468.00" y="529.00" font-family='"Liberation Sans", Arial, sans-serif' font-size="10.2" font-weight="normal" text-anchor="end" fill="#111" stroke="#111" stroke-width="0.42">10</text>
<text x="468.60" y="524.20" font-family='"Liberation Sans", Arial, sans-serif' font-size="7.4" font-weight="normal" text-anchor="start" fill="#111" stroke="#111" stroke-width="0.42">-5</text>
<text x="441.30" y="428.40" font-family='"Liberation Sans", Arial, sans-serif' font-size="14.3" font-weight="normal" text-anchor="middle" fill="#111" transform="rotate(-90 441.30 428.40)" textLength="99.5" lengthAdjust="spacingAndGlyphs" stroke="#111" stroke-width="0.42">Relative intensity</text>
<text x="637.20" y="566.70" font-family='"Liberation Serif", "Times New Roman", serif' font-size="14.6" font-weight="bold" text-anchor="middle" fill="#111" stroke="#111" stroke-width="0.25">E [MeV]</text>
<text x="422.00" y="324.60" font-family='"Liberation Serif", "Times New Roman", serif' font-size="17.7" font-weight="bold" text-anchor="start" fill="#111" stroke="#111" stroke-width="0.25">(iv)</text>
<text x="703.50" y="334.20" font-family='"Liberation Serif", "Times New Roman", serif' font-size="13.6" font-weight="normal" text-anchor="start" fill="#111" textLength="16.6" lengthAdjust="spacingAndGlyphs" stroke="#111" stroke-width="0.25">DT</text>
<polyline points="668.78,530.00 668.91,527.64 669.22,521.68 669.52,515.69 669.83,509.74 670.14,503.92 670.45,498.27 670.75,492.89 671.06,487.84 671.37,483.03 671.68,478.32 671.98,473.72 672.29,469.23 672.60,464.84 672.91,460.55 673.21,456.37 673.52,452.28 673.83,448.30 674.13,444.42 674.44,440.63 674.75,436.94 675.06,433.35 675.37,429.85 675.67,426.44 675.98,423.13 676.29,419.90 676.60,416.74 676.90,413.66 677.21,410.65 677.52,407.69 677.83,404.79 678.13,401.94 678.44,399.13 678.75,396.36 679.06,393.62 679.36,390.90 679.67,388.20 679.98,385.52 680.29,382.84 680.59,380.16 680.90,377.48 681.21,374.78 681.52,372.07 681.82,369.33 682.13,366.58 682.44,363.85 682.75,361.17 683.05,358.58 683.36,356.10 683.67,353.77 683.98,351.56 684.28,349.43 684.59,347.38 684.90,345.43 685.21,343.57 685.51,341.81 685.82,340.13 686.13,338.53 686.44,337.04 686.74,335.72 687.05,334.57 687.36,333.49 687.67,332.50 687.97,331.57 688.28,330.73 688.59,329.95 688.90,329.24 689.20,328.59 689.51,328.00 689.82,327.44 690.12,326.92 690.43,326.43 690.74,325.97 691.05,325.53 691.36,325.12 691.66,324.74 691.97,324.40 692.28,324.09 692.59,323.79 692.89,323.50 693.20,323.20 693.51,323.50 693.82,323.79 694.12,324.09 694.43,324.40 694.74,324.74 695.05,325.12 695.35,325.53 695.66,325.97 695.97,326.43 696.28,326.92 696.58,327.44 696.89,328.00 697.20,328.59 697.50,329.24 697.81,329.95 698.12,330.73 698.43,331.57 698.74,332.50 699.04,333.49 699.35,334.57 699.66,335.72 699.97,337.04 700.27,338.53 700.58,340.13 700.89,341.81 701.20,343.57 701.50,345.43 701.81,347.38 702.12,349.43 702.43,351.56 702.73,353.77 703.04,356.10 703.35,358.58 703.66,361.17 703.96,363.85 704.27,366.58 704.58,369.33 704.88,372.07 705.19,374.78 705.50,377.48 705.81,380.16 706.12,382.84 706.42,385.52 706.73,388.20 707.04,390.90 707.35,393.62 707.65,396.36 707.96,399.13 708.27,401.94 708.58,404.79 708.88,407.69 709.19,410.65 709.50,413.66 709.81,416.74 710.11,419.90 710.42,423.13 710.73,426.44 711.04,429.85 711.34,433.35 711.65,436.94 711.96,440.63 712.27,444.42 712.57,448.30 712.88,452.28 713.19,456.37 713.50,460.55 713.80,464.84 714.11,469.23 714.42,473.72 714.73,478.32 715.03,483.03 715.34,487.84 715.65,492.89 715.96,498.27 716.26,503.92 716.57,509.74 716.88,515.69 717.19,521.68 717.49,527.64 717.62,530.00" fill="none" stroke="#000" stroke-width="1.5" stroke-linejoin="miter"/>
</svg>
</body></html>
